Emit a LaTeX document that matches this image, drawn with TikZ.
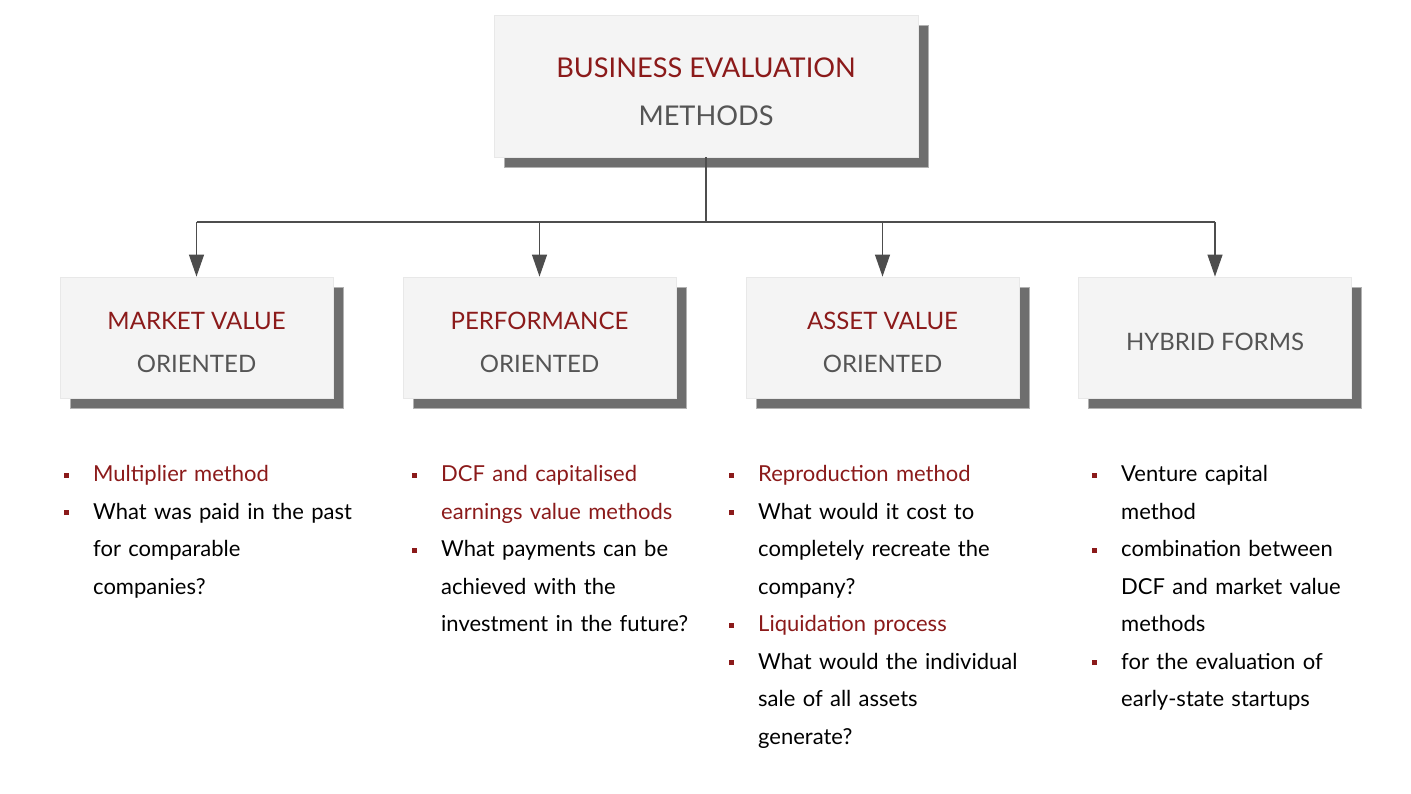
\documentclass[tikz,border=0pt]{standalone}
\usepackage{fontspec}
\setmainfont{Lato}
\usetikzlibrary{positioning,arrows.meta,shadows}

\definecolor{darkred}{HTML}{8B1A1A}
\definecolor{textgray}{HTML}{555555}
\definecolor{boxfill}{HTML}{F4F4F4}
\definecolor{shadowgray}{HTML}{6E6E6E}
\definecolor{linegray}{HTML}{4D4D4D}

\setlength{\parskip}{0pt}
\newcommand\sqbullet{\makebox[29pt][l]{\textcolor{darkred}{\rule[4pt]{5pt}{5pt}}}}
\newcommand\pitem[1]{\par\noindent\hangindent 29pt\hangafter 1\relax\sqbullet #1}

\begin{document}
\begin{tikzpicture}[x=1pt,y=-1pt,
		box/.style={fill=boxfill,draw=gray!18,line width=0.8pt,inner sep=0pt,
			drop shadow={shadow xshift=10pt,shadow yshift=-10pt,fill=shadowgray,draw=gray!60,opacity=1}},
		headred/.style={inner sep=0pt,text=darkred,font=\fontsize{27.2}{28}\selectfont},
		headgray/.style={inner sep=0pt,text=textgray,font=\fontsize{27.2}{28}\selectfont},
		subred/.style={inner sep=0pt,text=darkred,font=\fontsize{24}{24}\selectfont},
		subgray/.style={inner sep=0pt,text=textgray,font=\fontsize{24}{24}\selectfont},
		column/.style={anchor=north west,inner sep=0pt,text width=300pt,
			font=\fontsize{22}{37.5}\selectfont}]
		
		\useasboundingbox (0,0) rectangle (1411,794);
		
		% top box
		\node[box,minimum width=424pt,minimum height=142pt] (top) at (706,86) {};
		\node[headred,yshift=18pt] (topA) at (top.center) {BUSINESS EVALUATION};
		\node[headgray,yshift=-30pt] (topB) at (top.center) {METHODS};
		
		% four method boxes
		\foreach \cx/\nm in {196.5/mv,539.5/pf,882.5/av,1215/hy}
		{
			\node[box,minimum width=273pt,minimum height=121pt] (\nm) at (\cx,337.5) {};
		}
		\node[subred,yshift=16.5pt] (mvA) at (mv.center) {MARKET VALUE};
		\node[subgray,yshift=-26.5pt] (mvB) at (mv.center) {ORIENTED};
		\node[subred,yshift=16.5pt] (pfA) at (pf.center) {PERFORMANCE};
		\node[subgray,yshift=-26.5pt] (pfB) at (pf.center) {ORIENTED};
		\node[subred,yshift=16.5pt] (avA) at (av.center) {ASSET VALUE};
		\node[subgray,yshift=-26.5pt] (avB) at (av.center) {ORIENTED};
		\node[subgray,yshift=-4.5pt] (hyA) at (hy.center) {HYBRID FORMS};
		
		% connectors
		\coordinate (bar) at (706,222);
		\draw[linegray,line width=1.2pt] (top.south) -- (bar);
		\draw[linegray,line width=1.2pt] (mv.north |- bar) -- (hy.north |- bar);
		\foreach \nm in {mv,pf,av,hy}
		{
			\draw[linegray,line width=1.2pt,-{Triangle[length=22pt,width=15pt]}] (\nm.north |- bar) -- (\nm.north);
		}
		
		% bullet lists
		\node[column] (mvList) at (64,444) {%
			\pitem{{\color{darkred}Multiplier method}}
			\pitem{What was paid in the past\newline for comparable\newline companies?}\par};
		\node[column] (pfList) at (412,444) {%
			\pitem{{\color{darkred}DCF and capitalised\newline earnings value methods}}
			\pitem{What payments can be\newline achieved with the\newline investment in the future?}\par};
		\node[column] (avList) at (729,444) {%
			\pitem{{\color{darkred}Reproduction method}}
			\pitem{What would it cost to\newline completely recreate the\newline company?}
			\pitem{{\color{darkred}Liquidation process}}
			\pitem{What would the individual\newline sale of all assets\newline generate?}\par};
		\node[column] (hyList) at (1092,444) {%
			\pitem{Venture capital\newline method}
			\pitem{combination between\newline DCF and market value\newline methods}
			\pitem{for the evaluation of\newline early-state startups}\par};
		
	\end{tikzpicture}
\end{document}
